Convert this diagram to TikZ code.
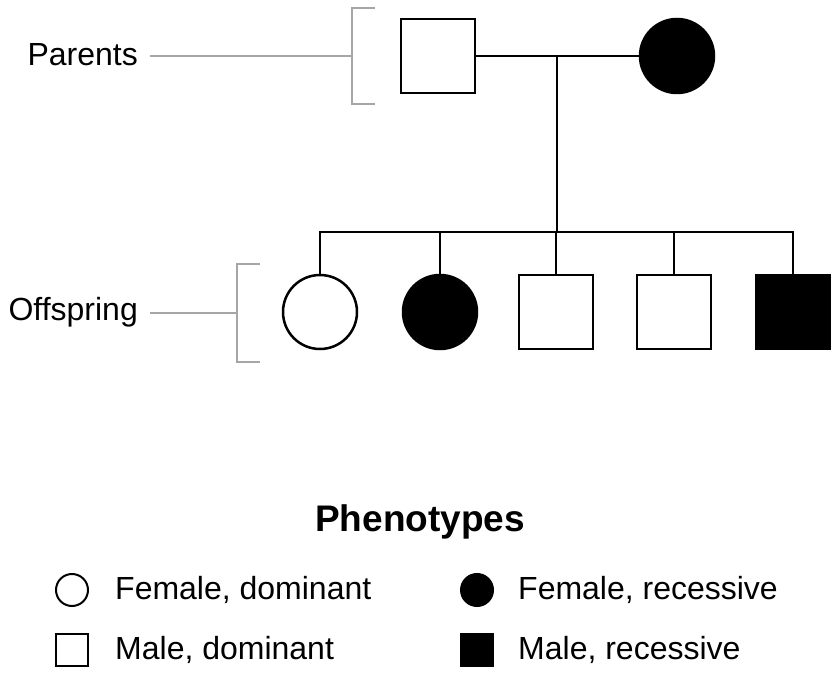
\documentclass[tikz,border=0pt]{standalone}
\usepackage{fontspec}
\setmainfont{Liberation Sans}
\begin{document}
\begin{tikzpicture}[x=1pt,y=-1pt,
  ind/.style={draw=black,line width=2.5pt,minimum size=74pt,inner sep=0pt},
  sq/.style={ind,rectangle},
  ci/.style={ind,circle},
  full/.style={fill=black},
  lg/.style={draw=black,line width=2pt,minimum size=32pt,inner sep=0pt},
  br/.style={draw=gray!70,line width=1.5pt},
  lbl/.style={font=\fontsize{32}{36}\selectfont,anchor=west,inner sep=0pt},
  line/.style={line width=2.5pt}]
\useasboundingbox (0,0) rectangle (839,676);
\node[sq] (f) at (438,56) {};
\node[ci,full] (m) at (677,56) {};
\coordinate (mid) at (557,56);
\coordinate (sib) at (557,232);
\node[ci] (o1) at (320,312) {};
\node[ci,full] (o2) at (440,312) {};
\node[sq] (o3) at (556,312) {};
\node[sq] (o4) at (674,312) {};
\node[sq,full] (o5) at (793,312) {};
\draw[line] (f) -- (m);
\draw[line] (mid) -- (sib);
\draw[line] (o1.north) |- (sib) -| (o5.north);
\foreach \o in {o2,o3,o4} \draw[line] (\o.north) -- (\o.north |- sib);
% brackets and labels
\node[lbl,anchor=east] (pl) at (138,55) {Parents};
\draw[br] (375,8) -- (352,8) -- (352,104) -- (375,104);
\coordinate (pb) at (352,56);
\draw[br] (150,56) -- (pb);
\node[lbl,anchor=east] (ol) at (138,312) {Offspring};
\draw[br] (260,264) -- (237,264) -- (237,362) -- (260,362);
\coordinate (ob) at (237,313);
\draw[br] (150,313) -- (ob);
% legend
\node[font=\bfseries\fontsize{37}{40}\selectfont] (t) at (420,522) {Phenotypes};
\node[lg,circle] (l1) at (72,590) {};
\node[lbl] at (115,590) {Female, dominant};
\node[lg,circle,full] (l2) at (477,590) {};
\node[lbl] at (518,590) {Female, recessive};
\node[lg,rectangle] (l3) at (72,650) {};
\node[lbl] at (115,650) {Male, dominant};
\node[lg,rectangle,full] (l4) at (477,650) {};
\node[lbl] at (518,650) {Male, recessive};
\end{tikzpicture}
\end{document}
